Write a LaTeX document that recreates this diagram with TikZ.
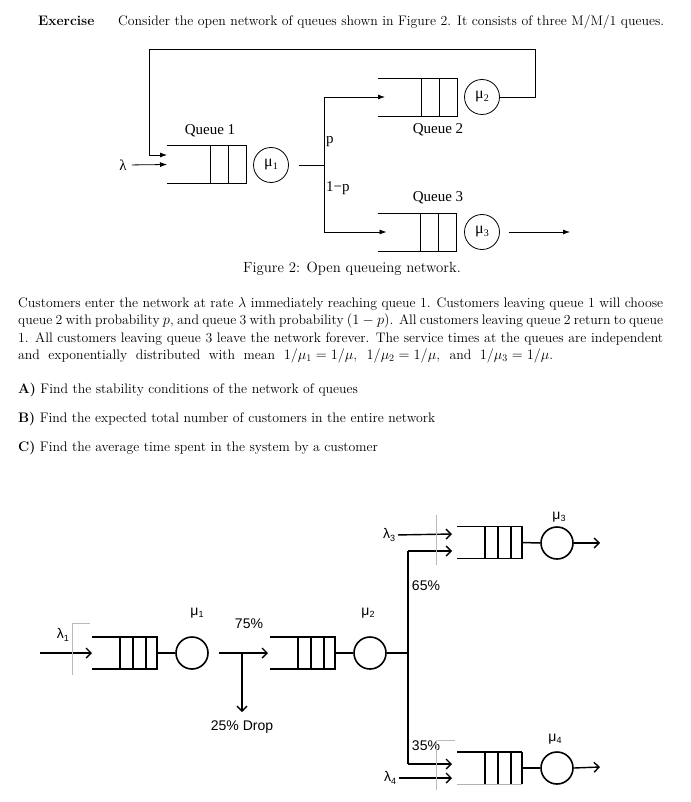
\documentclass[tikz,border=0pt]{standalone}
\usepackage{fontspec}
\newfontfamily\timesf{Liberation Serif}
\newfontfamily\arialf{Liberation Sans}
\usetikzlibrary{arrows.meta,calc}
\newcommand{\tsub}[1]{\raisebox{-0.4ex}{\fontsize{10}{10}\selectfont #1}}
\newcommand{\asub}[1]{\raisebox{-0.3ex}{\fontsize{9}{9}\selectfont #1}}
\newcommand{\tqueue}[1]{%
  \draw[tline] (#1.north west) -- (#1.north east) -- (#1.south east) -- (#1.south west);
  \foreach \f in {0.544,0.772}{\draw[tline] ($(#1.north west)!\f!(#1.north east)$) -- ($(#1.south west)!\f!(#1.south east)$);}%
}
\newcommand{\bqueue}[1]{%
  \draw[bline] (#1.north west) -- (#1.north east) -- (#1.south east) -- (#1.south west);
  \foreach \f in {0.43,0.63,0.83}{\draw[bline] ($(#1.north west)!\f!(#1.north east)$) -- ($(#1.south west)!\f!(#1.south east)$);}%
}
\begin{document}
\begin{tikzpicture}[x=1pt,y=-1pt,
  tq/.style={inner sep=0,outer sep=0,minimum width=79pt,minimum height=38pt},
  ts/.style={draw,circle,inner sep=0,minimum size=35pt,line width=0.8pt,font=\timesf\fontsize{16}{16}\selectfont},
  tline/.style={line width=0.8pt},
  tarrow/.style={line width=0.8pt,-{Latex[length=7pt,width=5pt]}},
  tlabel/.style={font=\timesf\fontsize{15}{15}\selectfont, inner sep=0},
  bq/.style={inner sep=0,outer sep=0,minimum width=65pt,minimum height=32pt},
  bs/.style={draw,circle,inner sep=0,minimum size=32pt,line width=1.6pt},
  bline/.style={line width=1.5pt},
  barrow/.style={line width=1.4pt,-{Straight Barb[length=5pt,width=10pt]}},
  blabel/.style={font=\arialf\fontsize{14}{14}\selectfont, inner sep=0},
  artifact/.style={gray!55,line width=0.7pt},
  txt/.style={font=\fontsize{13.8}{17.5}\selectfont, inner sep=0, anchor=base west},
]
\fill[white] (0,0) rectangle (690,802);
\useasboundingbox (0,0) rectangle (690,802);

% ---------- header text ----------
\node[txt] (ex) at (38,26) {\bfseries Exercise};
\node[txt] (ex2) at (118,26) {Consider the open network of queues shown in Figure 2. It consists of three M/M/1 queues.};

% ---------- top figure ----------
\node[tq] (q1) at (206.5,164.5) {};
\node[tq] (q2) at (417.5,97) {};
\node[tq] (q3) at (417,232) {};
\tqueue{q1}\tqueue{q2}\tqueue{q3}
\node[ts] (mu1) at (271,165) {μ\tsub{1}};
\node[ts] (mu2) at (482,97) {μ\tsub{2}};
\node[ts] (mu3) at (482,232) {μ\tsub{3}};
\node[tlabel] (lq1) at (210,131) {Queue 1};
\node[tlabel] (lq2) at (438,130) {Queue 2};
\node[tlabel] (lq3) at (438,198) {Queue 3};
\node[tlabel, anchor=west] (pl) at (326,142) {p};
\node[tlabel, anchor=west] (qpl) at (326,188) {1−p};
\node[tlabel] (lam) at (123,165) {λ};

\coordinate (b1) at (324,165);
\coordinate (b1t) at (324,97);
\coordinate (b1b) at (324,232);
\coordinate (fbR) at (535,49);
\coordinate (fbL) at (149,49);
\coordinate (out3) at (570,232);

\draw[tarrow, shorten <=5pt] (lam.east) -- (q1.west);
\draw[tarrow] (mu2.east) -| (fbR) -- (fbL) |- ($(q1.west)+(0,-9.5)$);
\draw[tline, shorten <=10pt] (mu1.east) -- (b1);
\draw[tline] (b1t) -- (b1b);
\draw[tarrow] (b1t) -- ($(q2.west)+(7,0)$);
\draw[tarrow] (b1b) -- ($(q3.west)+(9,0)$);
\draw[tarrow, shorten <=9pt] (mu3.east) -- (out3);

\node[txt, anchor=base, font=\fontsize{14.8}{17.5}\selectfont] (cap) at (352,272) {Figure 2: Open queueing network.};

% ---------- paragraph ----------
\node[txt] (l1) at (18,307) {\makebox[645pt][s]{Customers enter the network at rate $\lambda$ immediately reaching queue 1. Customers leaving queue 1 will choose}};
\node[txt] (l2) at (18,324.5) {\makebox[645pt][s]{queue 2 with probability $p$, and queue 3 with probability \mbox{$(1-p)$}. All customers leaving queue 2 return to queue}};
\node[txt] (l3) at (18,342) {\makebox[645pt][s]{1. All customers leaving queue 3 leave the network forever. The service times at the queues are independent}};
\node[txt] (l4) at (18,359.5) {\makebox[535pt][s]{and exponentially distributed with mean \mbox{$1/\mu_1=1/\mu$}, \mbox{$1/\mu_2=1/\mu$}, and \mbox{$1/\mu_3=1/\mu$}.}};
\node[txt] (qa) at (18,393) {\textbf{A)} Find the stability conditions of the network of queues};
\node[txt] (qb) at (18,422) {\textbf{B)} Find the expected total number of customers in the entire network};
\node[txt] (qc) at (18,451) {\textbf{C)} Find the average time spent in the system by a customer};

% ---------- bottom figure ----------
\node[bq] (bq1) at (124.5,653) {};
\node[bq] (bq2) at (302.5,653) {};
\node[bq] (bq3) at (489.5,542.5) {};
\node[bq] (bq4) at (489.5,768) {};
\bqueue{bq1}\bqueue{bq2}\bqueue{bq3}
\draw[line width=2.4pt] (bq4.north west) -- (bq4.north east);
\draw[bline] (bq4.north east) -- (bq4.south east);
\draw[gray!60, line width=0.9pt] (bq4.south west) -- (bq4.south east);
\foreach \f in {0.43,0.63,0.83}{\draw[bline] ($(bq4.north west)!\f!(bq4.north east)$) -- ($(bq4.south west)!\f!(bq4.south east)$);}
\node[bs] (bm1) at (192,653) {};
\node[bs] (bm2) at (370,653) {};
\node[bs] (bm3) at (557,543) {};
\node[bs] (bm4) at (557,768) {};

\node[blabel] (lb1) at (63,635) {λ\asub{1}};
\node[blabel] (lbm1) at (197,613) {μ\asub{1}};
\node[blabel] (lbm2) at (368,613) {μ\asub{2}};
\node[blabel] (lbm3) at (559,517) {μ\asub{3}};
\node[blabel] (lbm4) at (555,739) {μ\asub{4}};
\node[blabel] (lb3) at (389,535) {λ\asub{3}};
\node[blabel] (lb4) at (390,778) {λ\asub{4}};
\node[blabel] (p75) at (249,624) {75\%};
\node[blabel] (drop) at (242,727) {25\% Drop};
\node[blabel] (p65) at (426,586) {65\%};
\node[blabel] (p35) at (426,746) {35\%};

\coordinate (in1) at (40,653);
\coordinate (d1) at (242,653);
\coordinate (d1e) at (242,712);
\coordinate (b2) at (408,653);
\coordinate (b2t) at (408,551);
\coordinate (b2b) at (408,764);
\coordinate (o3) at (600,543);
\coordinate (o4) at (600,767);

\draw[barrow] (in1) -- (bq1.west);
\draw[bline] (bq1.east) -- (bm1.west);
\draw[barrow, shorten <=10pt] (bm1.east) -- ($(bq2.west)+(-2,0)$);
\draw[barrow] (d1) -- (d1e);
\draw[bline] (bq2.east) -- (bm2.west);
\draw[bline] (bm2.east) -- (b2);
\draw[bline] (b2t) -- (b2b);
\draw[barrow] (b2t) -- ($(bq3.west)+(-5,8.5)$);
\draw[barrow, shorten <=3pt] (lb3.east) -- ($(bq3.west)+(-5,-8.5)$);
\draw[bline] (bq3.east) -- (bm3.west);
\draw[barrow] (bm3.east) -- (o3);
\draw[barrow] (b2b) -- ($(bq4.west)+(-5,-4)$);
\draw[barrow, shorten <=3pt] (lb4.east) -- ($(bq4.west)+(-5,10)$);
\draw[bline] (bq4.east) -- (bm4.west);
\draw[barrow] (bm4.east) -- (o4);

\draw[artifact] (72,623) -- (72,675);
\draw[artifact] (72,623) -- (90,623);
\draw[artifact] (436,515) -- (436,565);
\draw[artifact] (436,740) -- (436,790);
\draw[artifact] (438,740) -- (455,740);
\end{tikzpicture}
\end{document}
